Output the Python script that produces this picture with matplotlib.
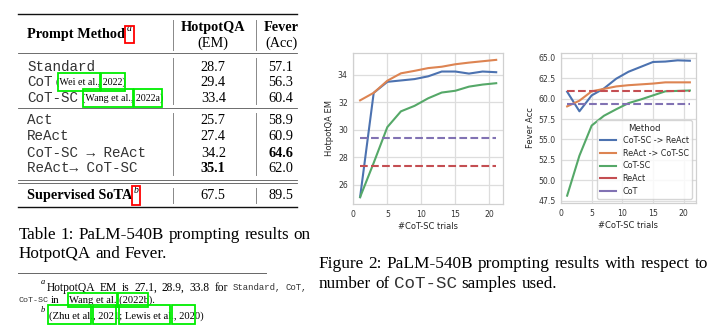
import matplotlib
matplotlib.use('Agg')
import matplotlib.pyplot as plt
from matplotlib.patches import Rectangle
from matplotlib.lines import Line2D

# ---------------- data ----------------
methods = ['Standard', 'CoT', 'CoT-SC', 'Act', 'ReAct', 'CoT-SC \u2192 ReAct', 'ReAct\u2192 CoT-SC']
citations = ['', '(Wei et al., 2022)', '(Wang et al., 2022a)', '', '', '', '']
hotpot_em = ['28.7', '29.4', '33.4', '25.7', '27.4', '34.2', '35.1']
fever_acc = ['57.1', '56.3', '60.4', '58.9', '60.9', '64.6', '62.0']
hotpot_bold = [False, False, False, False, False, False, True]
fever_bold = [False, False, False, False, False, True, False]
sota_label = 'Supervised SoTA'
sota_hotpot = '67.5'
sota_fever = '89.5'

trials = [1, 3, 5, 7, 9, 11, 13, 15, 17, 19, 21]
em_cotsc_react = [25.1, 32.7, 33.5, 33.6, 33.7, 33.9, 34.25, 34.25, 34.1, 34.25, 34.2]
em_react_cotsc = [32.15, 32.7, 33.58, 34.12, 34.3, 34.5, 34.6, 34.78, 34.9, 35.0, 35.1]
em_cotsc = [25.1, 27.6, 30.2, 31.35, 31.75, 32.3, 32.72, 32.85, 33.15, 33.3, 33.4]
em_react = 27.4
em_cot = 29.4
fever_cotsc_react = [60.85, 58.45, 60.4, 61.25, 62.45, 63.3, 63.9, 64.5, 64.55, 64.7, 64.65]
fever_react_cotsc = [59.05, 59.75, 60.9, 61.2, 61.5, 61.65, 61.75, 61.85, 62.0, 62.0, 62.0]
fever_cotsc = [48.1, 53.0, 56.7, 57.9, 58.7, 59.45, 59.9, 60.4, 60.9, 60.95, 61.0]
fever_react = 60.9
fever_cot = 59.3
series_names = ['CoT-SC -> ReAct', 'ReAct -> CoT-SC', 'CoT-SC', 'ReAct', 'CoT']
colors = ['#4c72b0', '#dd8452', '#55a868', '#c44e52', '#8172b3']

# ---------------- figure ----------------
W, H = 720, 335
fig = plt.figure(figsize=(7.2, 3.35), dpi=100)
bg = fig.add_axes([0, 0, 1, 1])
bg.set_xlim(0, W)
bg.set_ylim(H, 0)
bg.axis('off')

SERIF = ['Liberation Serif', 'DejaVu Serif']
MONO = ['Liberation Mono', 'DejaVu Sans Mono']
MONO_COLOR = '#333333'


def txt(x, yc, s, size, family=SERIF, weight='normal', ha='left', style='normal', color='black'):
    px = size * 100 / 72
    return bg.text(x, yc + 0.34 * px, s, fontsize=size, family=family, weight=weight,
                   ha=ha, va='baseline', style=style, color=color)


def measure(objs):
    fig.canvas.draw()
    r = fig.canvas.get_renderer()
    return [o.get_window_extent(r).width for o in objs]


def justify(words, x0, x1, yc):
    objs = [txt(0, yc, s, size, family=fam, color=(MONO_COLOR if fam is MONO else 'black'))
            for s, fam, size in words]
    widths = measure(objs)
    gap = (x1 - x0 - sum(widths)) / (len(objs) - 1)
    x = x0
    for o, w in zip(objs, widths):
        o.set_x(x)
        x += w + gap


def seq(words, x0, yc, space=0.27):
    objs = [txt(0, yc, s, size, family=fam, color=(MONO_COLOR if fam is MONO else 'black'))
            for s, fam, size in words]
    widths = measure(objs)
    x = x0
    for o, w, (s, fam, size) in zip(objs, widths, words):
        o.set_x(x)
        x += w + space * size * 100 / 72


# ---------------- table ----------------
TX0, TX1 = 18.3, 297
bg.plot([TX0, TX1], [14.3, 14.3], lw=1.0, color='#111111')
for yy in (53.3, 108.3, 180.0, 182.7):
    bg.plot([TX0, TX1], [yy, yy], lw=0.6, color='#555555')
bg.plot([TX0, TX1], [206.7, 206.7], lw=1.0, color='#111111')
for vx in (172.5, 255.5):
    for ya, yb in [(20, 50), (58, 104), (113, 175), (187.5, 203)]:
        bg.plot([vx, vx], [ya, yb], lw=0.7, color='#888888')

FS = 10.3
CX_H, CX_F = 213.3, 281
txt(27.3, 33.3, 'Prompt Method', FS, weight='bold')
txt(126.3, 28.0, 'a', 7, style='italic')
txt(CX_H, 25.7, 'HotpotQA', FS, weight='bold', ha='center')
txt(CX_H, 42.0, '(EM)', FS, ha='center')
txt(CX_F, 25.7, 'Fever', FS, weight='bold', ha='center')
txt(CX_F, 42.0, '(Acc)', FS, ha='center')

row_y = [65.7, 81.0, 97.0, 119.0, 135.0, 151.7, 167.5]
cite_x = [0, 56.0, 81.5, 0, 0, 0, 0]
for i, m in enumerate(methods):
    txt(27.3, row_y[i], m, FS, family=MONO, color=MONO_COLOR)
    if citations[i]:
        txt(cite_x[i], row_y[i] + 0.8, citations[i], 7.2)
    txt(CX_H, row_y[i], hotpot_em[i], FS, ha='center', weight='bold' if hotpot_bold[i] else 'normal')
    txt(CX_F, row_y[i], fever_acc[i], FS, ha='center', weight='bold' if fever_bold[i] else 'normal')

txt(27.3, 194.3, sota_label, FS, weight='bold')
txt(133.3, 189.5, 'b', 7, style='italic')
txt(CX_H, 194.3, sota_hotpot, FS, ha='center')
txt(CX_F, 194.3, sota_fever, FS, ha='center')

# caption
CAP = 12.3
seq([(w, SERIF, CAP) for w in 'Table 1: PaLM-540B prompting results on'.split()], 18.3, 233.3)
seq([(w, SERIF, CAP) for w in 'HotpotQA and Fever.'.split()], 18.3, 251.7)

# footnotes
bg.plot([18.3, 265.7], [273.3, 273.3], lw=0.7, color='#666666')
txt(40.5, 281.0, 'a', 6, style='italic')
fn_words = [(w, SERIF, 8.3) for w in 'HotpotQA EM is 27.1, 28.9, 33.8 for'.split()]
fn_words += [('Standard,', MONO, 6.5), ('CoT,', MONO, 6.5)]
justify(fn_words, 46.7, 307, 287.0)
txt(18.3, 299.6, 'CoT-SC', 6.0, family=MONO, color=MONO_COLOR)
txt(51.0, 299.6, 'in', 7.8)
txt(69.3, 299.6, 'Wang et al. (2022b).', 7.6)
txt(40.5, 309.5, 'b', 6, style='italic')
txt(48.8, 315.5, '(Zhu et al., 2021; Lewis et al., 2020)', 7.7)

# highlight boxes
green_boxes = [(57.7, 72.7, 100, 90.7), (100.7, 72.7, 125, 90.7),
               (83.3, 89.3, 132.7, 106.7), (134, 89.3, 162.3, 106.7),
               (68.3, 293.3, 116.7, 306.7), (118.3, 293.3, 148.3, 306.7),
               (48.3, 305, 90.7, 324), (93.3, 305, 116, 324),
               (119.3, 305, 170, 324), (172.3, 305, 195, 324)]
for x0, y0, x1, y1 in green_boxes:
    bg.add_patch(Rectangle((x0, y0), x1 - x0, y1 - y0, fill=False, ec='#00ee00', lw=1.3, zorder=5))
for x0, y0, x1, y1 in [(124.5, 26, 134, 43), (131.7, 186, 140, 205)]:
    bg.add_patch(Rectangle((x0, y0), x1 - x0, y1 - y0, fill=False, ec='#ff0000', lw=1.3, zorder=5))

# figure 2 caption
justify([(w, SERIF, 12.4) for w in 'Figure 2: PaLM-540B prompting results with respect to'.split()], 318.3, 708, 261.7)
seq([('number', SERIF, CAP), ('of', SERIF, CAP), ('CoT-SC', MONO, 12.6),
     ('samples', SERIF, CAP), ('used.', SERIF, CAP)], 318.3, 281.7)


# ---------------- charts ----------------
def style_ax(ax):
    ax.set_facecolor('white')
    for s in ax.spines.values():
        s.set_color('#d0d0d0')
        s.set_linewidth(0.9)
    ax.grid(True, color='#dddddd', lw=0.9)
    ax.set_axisbelow(True)
    ax.tick_params(length=0, labelsize=5.6, colors='#333333', pad=4)
    for lab in ax.get_xticklabels() + ax.get_yticklabels():
        lab.set_family('DejaVu Sans')


ax1 = fig.add_axes([353.3 / W, 1 - 204 / H, 149.7 / W, 151 / H])
ax1.plot(trials, em_cotsc_react, color=colors[0], lw=1.5)
ax1.plot(trials, em_react_cotsc, color=colors[1], lw=1.5)
ax1.plot(trials, em_cotsc, color=colors[2], lw=1.5)
ax1.plot(trials, [em_react] * len(trials), color=colors[3], lw=1.5, ls='--')
ax1.plot(trials, [em_cot] * len(trials), color=colors[4], lw=1.5, ls='--')
ax1.set_xlim(0, 22)
ax1.set_ylim(24.6, 35.6)
ax1.set_xticks([0, 5, 10, 15, 20])
ax1.set_yticks([26, 28, 30, 32, 34])
style_ax(ax1)
ax1.set_xlabel('#CoT-SC trials', fontsize=6, color='#262626', labelpad=2.5, family='DejaVu Sans')
ax1.set_ylabel('HotpotQA EM', fontsize=6, color='#262626', labelpad=2.5, family='DejaVu Sans')

ax2 = fig.add_axes([561 / W, 1 - 203 / H, 135 / W, 150 / H])
ax2.plot(trials, fever_cotsc_react, color=colors[0], lw=1.5)
ax2.plot(trials, fever_react_cotsc, color=colors[1], lw=1.5)
ax2.plot(trials, fever_cotsc, color=colors[2], lw=1.5)
ax2.plot(trials, [fever_react] * len(trials), color=colors[3], lw=1.5, ls='--')
ax2.plot(trials, [fever_cot] * len(trials), color=colors[4], lw=1.5, ls='--')
ax2.set_xlim(0, 22)
ax2.set_ylim(47.2, 65.6)
ax2.set_xticks([0, 5, 10, 15, 20])
ax2.set_yticks([47.5, 50.0, 52.5, 55.0, 57.5, 60.0, 62.5, 65.0])
ax2.set_yticklabels(['%.1f' % v for v in ax2.get_yticks()])
style_ax(ax2)
ax2.set_xlabel('#CoT-SC trials', fontsize=6, color='#262626', labelpad=2.5, family='DejaVu Sans')
ax2.set_ylabel('Fever Acc', fontsize=6, color='#262626', labelpad=2.5, family='DejaVu Sans')

handles = [Line2D([], [], color=c, lw=1.5) for c in colors]
leg = ax2.legend(handles, series_names, title='Method', loc='lower right', fontsize=5.8,
                 title_fontsize=6.2, frameon=True, framealpha=0.8, edgecolor='#cccccc',
                 fancybox=True, labelspacing=0.45, borderpad=0.4, handlelength=2.0)
for t in leg.get_texts():
    t.set_color('#262626')
leg.get_title().set_color('#262626')

fig.savefig('out.png', dpi=100)
